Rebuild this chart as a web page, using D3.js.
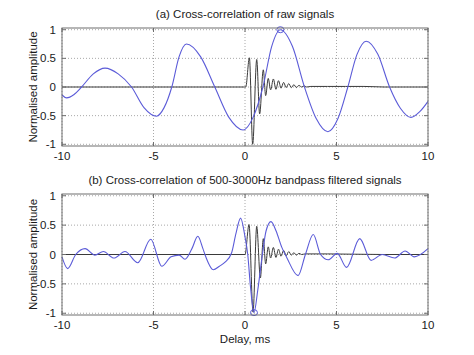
<!DOCTYPE html>
<html><head><meta charset="utf-8">
<script src="https://cdn.jsdelivr.net/npm/d3@7"></script>
<style>
body{margin:0;background:#fff;}
text{font-family:"Liberation Sans",Arial,sans-serif;font-size:11.5px;fill:#1a1a1a;}
</style></head>
<body>
<svg id="c" width="474" height="355"></svg>
<script>
// ---------- data ----------
const xTicks = [-10, -5, 0, 5, 10];
const yTicks = [-1, -0.5, 0, 0.5, 1];
const yTickLabels = ["-1", "-0.5", "0", "0.5", "1"];
const titleA = "(a) Cross-correlation of raw signals";
const titleB = "(b) Cross-correlation of 500-3000Hz bandpass filtered signals";

// (a) raw signals: blue = cross-correlation
const rawDelay = [-10, -9.75, -9.34, -8.93, -8.29, -7.65, -6.93, -6.2, -5.52, -4.84, -4.42, -4.0, -3.6, -3.2, -2.43, -1.65, -0.88, -0.1, 0.44, 0.98, 1.46, 1.93, 2.59, 3.25, 3.89, 4.53, 5.08, 5.62, 6.12, 6.62, 7.26, 7.9, 8.49, 9.07, 9.55, 10];
const rawXcorr = [-0.14, -0.19, -0.13, 0, 0.23, 0.33, 0.23, 0, -0.36, -0.51, -0.36, 0, 0.53, 0.75, 0.53, 0, -0.53, -0.75, -0.53, 0, 0.71, 1.0, 0.71, 0, -0.55, -0.78, -0.55, 0, 0.57, 0.8, 0.57, 0, -0.37, -0.53, -0.43, -0.25];
const rawPeak = [1.93, 1.0];

// (a) black reference response
const refDelayA = [-10, 0.04, 0.24, 0.42, 0.64, 0.8, 1.0, 1.13, 1.27, 1.4, 1.55, 1.69, 1.83, 1.97, 2.11, 2.25, 2.39, 2.53, 2.67, 2.81, 2.95, 3.09, 3.23, 3.37, 3.6, 4.5, 5.5, 6.5, 7.6, 10];
const refRespA = [0, 0, 0.51, -1.0, 0.48, -0.47, 0.3, -0.15, 0.15, -0.05, 0.14, -0.04, 0.11, -0.02, 0.08, -0.01, 0.06, -0.01, 0.04, -0.01, 0.03, 0, 0.02, 0, 0.01, 0.01, 0.01, 0.01, 0, 0];

// (b) bandpass filtered: blue = cross-correlation
const bpDelay = [-10, -9.69, -9.25, -8.74, -8.2, -7.74, -7.16, -6.56, -5.86, -5.15, -4.55, -4.04, -3.6, -3.28, -2.9, -2.58, -2.3, -2.19, -1.73, -1.4, -1.09, -0.73, -0.5, -0.24, 0.0, 0.15, 0.3, 0.49, 0.7, 0.95, 1.15, 1.42, 1.7, 2.0, 2.28, 2.9, 3.3, 3.73, 4.13, 4.55, 5.04, 5.55, 6.27, 6.89, 7.5, 8.18, 8.75, 9.25, 10];
const bpXcorr = [-0.04, -0.24, 0, 0.1, -0.01, 0.05, -0.06, 0.05, -0.14, 0.26, -0.2, -0.04, -0.01, -0.08, 0.1, 0.31, 0.1, 0, -0.26, -0.2, -0.13, 0.03, 0.35, 0.62, 0.3, 0, -0.55, -0.99, -0.6, 0, 0.4, 0.56, 0.4, 0.13, -0.05, -0.36, 0, 0.34, 0, -0.09, 0.02, -0.22, 0.27, -0.1, 0.0, -0.06, 0.06, -0.04, 0.1];
const bpPeak = [0.49, -0.99];

// (b) black reference response
const refDelayB = [-10, 0.0, 0.22, 0.44, 0.64, 0.84, 1.0, 1.13, 1.27, 1.4, 1.55, 1.69, 1.83, 1.97, 2.11, 2.25, 2.39, 2.53, 2.67, 2.81, 2.95, 3.09, 3.3, 4.5, 6.0, 7.6, 10];
const refRespB = [0, 0, 0.51, -0.98, 0.48, -0.4, 0.27, -0.16, 0.13, -0.06, 0.12, -0.05, 0.09, -0.03, 0.07, -0.02, 0.05, -0.01, 0.03, -0.01, 0.02, 0, 0.01, 0.01, 0.005, 0, 0];

// ---------- drawing ----------
const svg = d3.select("#c");
const blue = "#5b5bd8";
const dark = "#3a3a3a";
const axisCol = "#6e6e6e";
const gridCol = "#a8a8a8";

function panel(cfg) {
  const x = d3.scaleLinear().domain([-10, 10]).range([62, 428]);
  const y = d3.scaleLinear().domain([-1.03, 1.03]).range([cfg.bottom, cfg.top]);
  const g = svg.append("g");

  // grid
  g.selectAll(".gx").data(xTicks).join("line")
    .attr("x1", d => x(d)).attr("x2", d => x(d))
    .attr("y1", cfg.top).attr("y2", cfg.bottom)
    .attr("stroke", gridCol).attr("stroke-width", 1).attr("stroke-dasharray", "1,2");
  g.selectAll(".gy").data(yTicks).join("line")
    .attr("x1", 62).attr("x2", 428)
    .attr("y1", d => y(d)).attr("y2", d => y(d))
    .attr("stroke", gridCol).attr("stroke-width", 1).attr("stroke-dasharray", "1,2");

  const line = d3.line().x(d => x(d[0])).y(d => y(d[1])).curve(d3.curveMonotoneX);
  const ref = cfg.refX.map((v, i) => [v, cfg.refY[i]]);
  const xc = cfg.xcX.map((v, i) => [v, cfg.xcY[i]]);

  g.append("path").attr("d", line(ref)).attr("fill", "none")
    .attr("stroke", dark).attr("stroke-width", 1);
  g.append("path").attr("d", line(xc)).attr("fill", "none")
    .attr("stroke", blue).attr("stroke-width", 1.1);
  g.append("ellipse").attr("cx", x(cfg.peak[0])).attr("cy", y(cfg.peak[1]))
    .attr("rx", 3.5).attr("ry", 3).attr("fill", "none").attr("stroke", blue).attr("stroke-width", 1);

  // box
  g.append("rect").attr("x", 62).attr("y", cfg.top).attr("width", 366).attr("height", cfg.bottom - cfg.top)
    .attr("fill", "none").attr("stroke", axisCol).attr("stroke-width", 1);

  // ticks (inward, all four sides)
  const tl = 4;
  xTicks.forEach(t => {
    g.append("line").attr("x1", x(t)).attr("x2", x(t)).attr("y1", cfg.bottom).attr("y2", cfg.bottom - tl).attr("stroke", axisCol);
    g.append("line").attr("x1", x(t)).attr("x2", x(t)).attr("y1", cfg.top).attr("y2", cfg.top + tl).attr("stroke", axisCol);
  });
  yTicks.forEach(t => {
    g.append("line").attr("x1", 62).attr("x2", 62 + tl).attr("y1", y(t)).attr("y2", y(t)).attr("stroke", axisCol);
    g.append("line").attr("x1", 428).attr("x2", 428 - tl).attr("y1", y(t)).attr("y2", y(t)).attr("stroke", axisCol);
  });

  // tick labels
  g.selectAll(".xl").data(xTicks).join("text")
    .attr("x", d => x(d)).attr("y", cfg.bottom + 14).attr("text-anchor", "middle").text(d => d);
  g.selectAll(".yl").data(yTicks).join("text")
    .attr("x", 56).attr("y", d => y(d)).attr("dy", "0.35em").attr("text-anchor", "end")
    .text((d, i) => yTickLabels[i]);

  // title
  g.append("text").attr("x", 245).attr("y", cfg.top - 10).attr("text-anchor", "middle").text(cfg.title);
  // y label
  g.append("text").attr("transform", `translate(33,${(cfg.top + cfg.bottom) / 2}) rotate(-90)`)
    .attr("text-anchor", "middle").attr("dy", "0.35em").text("Normalised amplitude");
}

panel({top: 28, bottom: 146, title: titleA, refX: refDelayA, refY: refRespA, xcX: rawDelay, xcY: rawXcorr, peak: rawPeak});
panel({top: 194, bottom: 315, title: titleB, refX: refDelayB, refY: refRespB, xcX: bpDelay, xcY: bpXcorr, peak: bpPeak});

svg.append("text").attr("x", 245).attr("y", 343).attr("text-anchor", "middle").text("Delay, ms");
</script>
</body></html>
